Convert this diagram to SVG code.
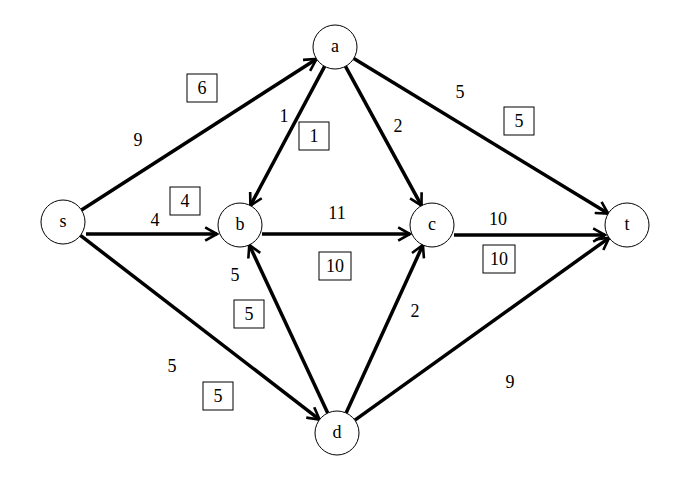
<svg xmlns="http://www.w3.org/2000/svg" width="694" height="486" viewBox="0 0 694 486">
<style>
.n{fill:#fff;stroke:#000;stroke-width:1}
.t{font-family:"Liberation Serif",serif;font-size:18px;text-anchor:middle;dominant-baseline:central}
.e{stroke:#000;stroke-width:3.5;fill:none;marker-end:url(#ar)}
.b{fill:#fff;stroke:#000;stroke-width:1}
</style>
<defs><marker id="ar" viewBox="0 0 12 12" refX="10" refY="6" markerWidth="4.5" markerHeight="4.5" orient="auto" markerUnits="strokeWidth"><path d="M1,1 L10,6 L1,11" fill="none" stroke="#000" stroke-width="2"/></marker></defs>
<rect width="694" height="486" fill="#fff"/>
<g id="connectors">
<line class="e" x1="81.5" y1="210" x2="316.5" y2="59"/>
<line class="e" x1="86" y1="234" x2="217" y2="234"/>
<line class="e" x1="80.4" y1="235.4" x2="319.6" y2="419.6"/>
<line class="e" x1="324.6" y1="66.4" x2="250.4" y2="205.6"/>
<line class="e" x1="345.5" y1="66.3" x2="421.5" y2="205.7"/>
<line class="e" x1="353.8" y1="58.4" x2="608.2" y2="213.6"/>
<line class="e" x1="262" y1="234" x2="410" y2="234"/>
<line class="e" x1="454" y1="235" x2="605" y2="235"/>
<line class="e" x1="327.7" y1="413.1" x2="249.3" y2="245"/>
<line class="e" x1="346.1" y1="413" x2="422.9" y2="245"/>
<line class="e" x1="354.9" y1="420.2" x2="609.1" y2="237.8"/>
</g>
<g id="s"><circle class="n" cx="63" cy="222" r="22"/><text class="t" x="63" y="221">s</text></g>
<g id="a"><circle class="n" cx="335" cy="47" r="22"/><text class="t" x="335" y="46">a</text></g>
<g id="b"><circle class="n" cx="240" cy="225" r="22"/><text class="t" x="240" y="224">b</text></g>
<g id="c"><circle class="n" cx="432" cy="225" r="22"/><text class="t" x="432" y="224">c</text></g>
<g id="t"><circle class="n" cx="627" cy="225" r="22"/><text class="t" x="627" y="224">t</text></g>
<g id="d"><circle class="n" cx="337" cy="433" r="22"/><text class="t" x="337" y="432">d</text></g>
<g id="labels">
<text class="t" x="138" y="140">9</text>
<rect class="b" x="187" y="74" width="30" height="28"/><text class="t" x="202" y="88">6</text>
<text class="t" x="155" y="220">4</text>
<rect class="b" x="170" y="187" width="30" height="28"/><text class="t" x="185" y="201">4</text>
<text class="t" x="172" y="366">5</text>
<rect class="b" x="203" y="382" width="30" height="28"/><text class="t" x="218" y="396">5</text>
<text class="t" x="284" y="116">1</text>
<rect class="b" x="299" y="122" width="30" height="28"/><text class="t" x="314" y="136">1</text>
<text class="t" x="398" y="126">2</text>
<text class="t" x="460" y="92">5</text>
<rect class="b" x="504" y="107" width="30" height="28"/><text class="t" x="519" y="121">5</text>
<text class="t" x="337" y="213">11</text>
<rect class="b" x="319" y="252" width="32" height="28"/><text class="t" x="335" y="266">10</text>
<text class="t" x="498" y="219">10</text>
<rect class="b" x="483" y="245" width="32" height="28"/><text class="t" x="499" y="259">10</text>
<text class="t" x="235" y="275">5</text>
<rect class="b" x="234" y="300" width="30" height="28"/><text class="t" x="249" y="314">5</text>
<text class="t" x="415" y="311">2</text>
<text class="t" x="510" y="382">9</text>
</g>
</svg>
